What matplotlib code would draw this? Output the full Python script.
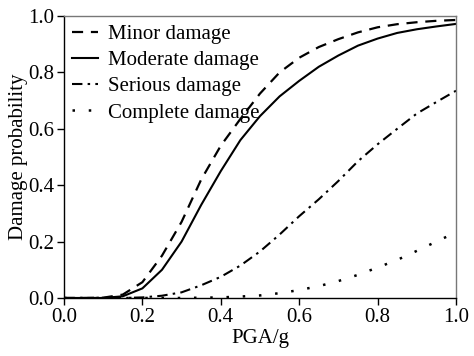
import matplotlib
matplotlib.use("Agg")
import matplotlib.pyplot as plt

# PGA values (g) and damage probabilities
pga = [0.0, 0.05, 0.1, 0.15, 0.2, 0.25, 0.3, 0.35, 0.4, 0.45, 0.5,
       0.55, 0.6, 0.65, 0.7, 0.75, 0.8, 0.85, 0.9, 0.95, 1.0]

minor = [0.0, 0.0, 0.001, 0.012, 0.056, 0.15, 0.27, 0.42, 0.54, 0.635, 0.725,
         0.80, 0.852, 0.89, 0.918, 0.942, 0.96, 0.971, 0.978, 0.983, 0.986]
moderate = [0.0, 0.0, 0.0, 0.006, 0.034, 0.10, 0.20, 0.33, 0.45, 0.56, 0.645,
            0.715, 0.77, 0.82, 0.86, 0.895, 0.92, 0.94, 0.953, 0.963, 0.972]
serious = [0.0, 0.0, 0.0, 0.0, 0.002, 0.008, 0.02, 0.045, 0.075, 0.115, 0.165,
           0.225, 0.29, 0.35, 0.415, 0.485, 0.545, 0.60, 0.654, 0.695, 0.735]
complete = [0.0, 0.0, 0.0, 0.0, 0.0, 0.0, 0.0, 0.001, 0.002, 0.005, 0.009,
            0.017, 0.028, 0.042, 0.06, 0.082, 0.108, 0.135, 0.167, 0.2, 0.233]

labels = ["Minor damage", "Moderate damage", "Serious damage", "Complete damage"]

plt.rcParams["font.family"] = ["Liberation Serif", "DejaVu Serif"]
plt.rcParams["font.size"] = 15

fig = plt.figure(figsize=(4.74, 3.56), dpi=100)
ax = fig.add_axes([0.135, 0.163, 0.827, 0.792])

ax.plot(pga, minor, color="black", lw=1.6, linestyle=(0, (5, 3.5)), label=labels[0])
ax.plot(pga, moderate, color="black", lw=1.5, linestyle="-", label=labels[1])
ax.plot(pga, serious, color="black", lw=1.5, linestyle=(0, (5, 2.5, 1.2, 2.5)), label=labels[2])
ax.plot(pga, complete, color="black", lw=1.8, linestyle=(0, (1, 5.5)), label=labels[3])

ax.set_xlim(0, 1)
ax.set_ylim(0, 1)
ax.set_xticks([0.0, 0.2, 0.4, 0.6, 0.8, 1.0])
ax.set_yticks([0.0, 0.2, 0.4, 0.6, 0.8, 1.0])
ax.xaxis.set_major_formatter(matplotlib.ticker.FormatStrFormatter("%.1f"))
ax.yaxis.set_major_formatter(matplotlib.ticker.FormatStrFormatter("%.1f"))
ax.tick_params(direction="out", length=5, width=1, pad=2, labelsize=15)

ax.set_xlabel("PGA/g", fontsize=15, labelpad=2)
ax.set_ylabel("Damage probability", fontsize=15, labelpad=0)

for side in ["left", "bottom"]:
    ax.spines[side].set_color("black")
    ax.spines[side].set_linewidth(1.0)
for side in ["top", "right"]:
    ax.spines[side].set_color("#777777")
    ax.spines[side].set_linewidth(1.0)

ax.legend(loc="upper left", frameon=False, fontsize=15, handlelength=1.25,
          handletextpad=0.45, labelspacing=0.32, borderaxespad=0.0,
          bbox_to_anchor=(0.0, 1.0))

fig.savefig("out.png", dpi=100)
plt.close(fig)
